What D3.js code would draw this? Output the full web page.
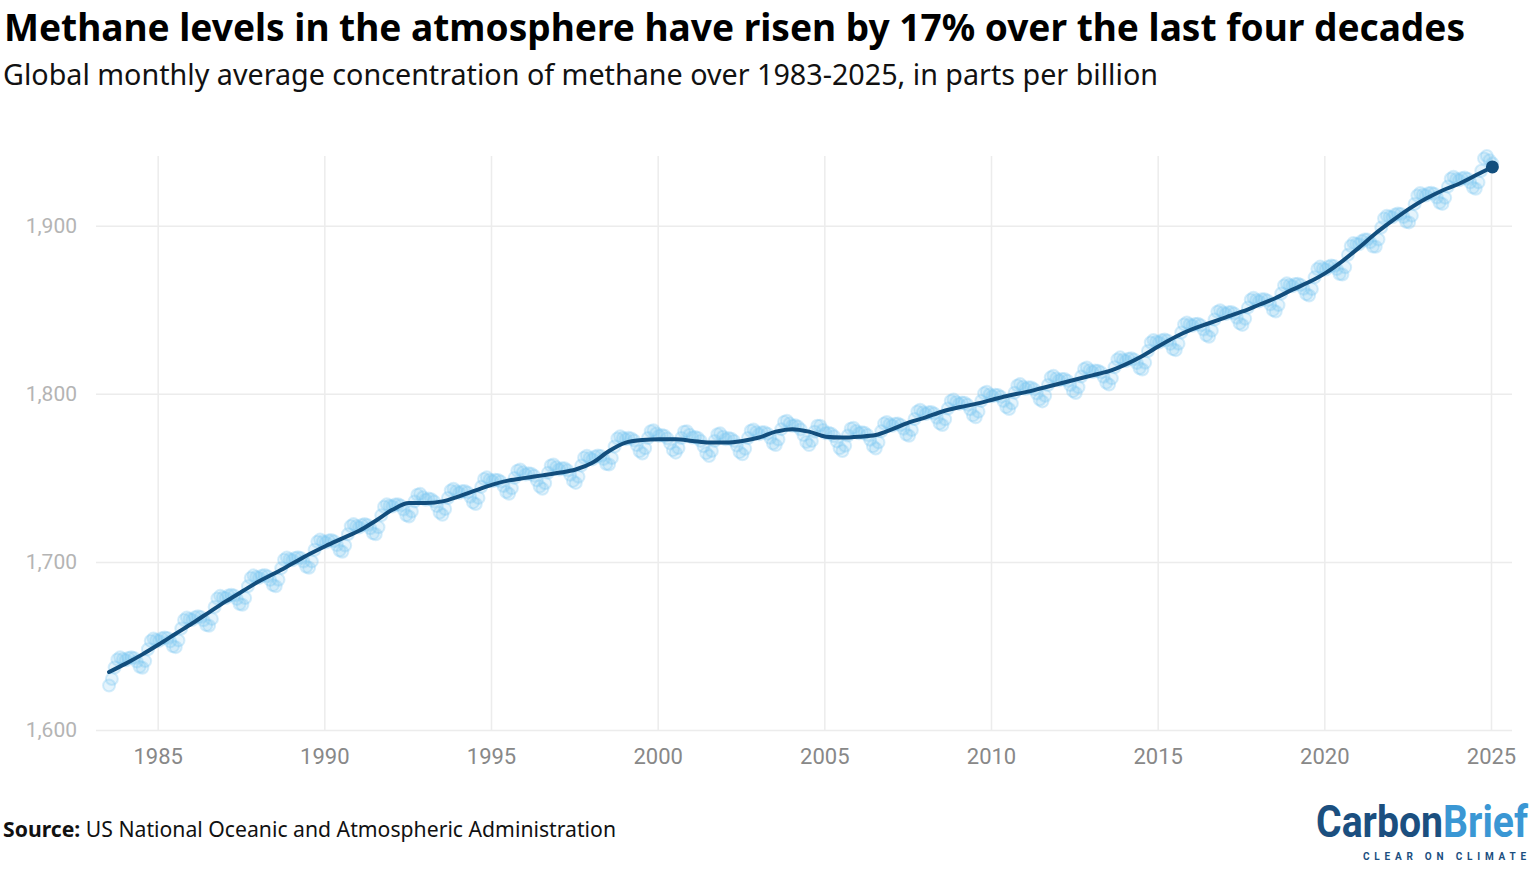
<!DOCTYPE html>
<html>
<head>
<meta charset="utf-8">
<script src="https://cdn.jsdelivr.net/npm/d3@7"></script>
<style>
	html, body { margin: 0; padding: 0; background: #ffffff; }
	svg { display: block; }
</style>
</head>
<body>
<svg id="chart" width="1536" height="870"></svg>
<script>
// NOAA global monthly mean CH4 (ppb), starting July 1983
const firstYear = 1983, firstMonth = 6;
const monthlyValues = [
	1626.5, 1630.3, 1637.2, 1642.0, 1643.3, 1642.2,
	1641.5, 1642.9, 1643.3, 1642.8, 1640.7, 1637.6, 1637.0, 1641.0, 1648.0, 1653.0, 1654.5, 1653.5,
	1653.0, 1654.6, 1655.1, 1654.7, 1652.7, 1649.8, 1649.3, 1653.3, 1660.4, 1665.4, 1666.9, 1666.0,
	1665.5, 1667.1, 1667.7, 1667.2, 1665.3, 1662.4, 1662.0, 1666.1, 1673.2, 1678.3, 1679.8, 1678.9,
	1678.5, 1680.0, 1680.5, 1680.0, 1678.0, 1675.0, 1674.5, 1678.5, 1685.5, 1690.5, 1692.0, 1691.0,
	1690.5, 1691.8, 1692.2, 1691.5, 1689.3, 1686.2, 1685.5, 1689.4, 1696.3, 1701.3, 1702.7, 1701.6,
	1701.0, 1702.4, 1702.8, 1702.3, 1700.2, 1697.1, 1696.5, 1700.3, 1707.2, 1712.0, 1713.3, 1712.2,
	1711.5, 1712.8, 1713.0, 1712.3, 1710.0, 1706.8, 1706.0, 1709.8, 1716.5, 1721.3, 1722.5, 1721.3,
	1720.5, 1722.0, 1722.5, 1722.0, 1720.0, 1717.0, 1716.5, 1720.6, 1727.7, 1732.8, 1734.3, 1733.4,
	1733.0, 1734.2, 1734.3, 1733.5, 1731.2, 1727.8, 1727.0, 1730.0, 1736.0, 1740.0, 1740.5, 1738.5,
	1737.0, 1737.7, 1737.3, 1736.0, 1733.2, 1729.3, 1728.0, 1731.5, 1738.0, 1742.5, 1743.5, 1742.0,
	1741.0, 1742.1, 1742.2, 1741.3, 1738.8, 1735.4, 1734.5, 1738.1, 1744.7, 1749.3, 1750.3, 1748.9,
	1748.0, 1748.9, 1748.8, 1747.8, 1745.2, 1741.6, 1740.5, 1743.8, 1750.0, 1754.3, 1755.0, 1753.3,
	1752.0, 1752.8, 1752.5, 1751.3, 1748.5, 1744.8, 1743.5, 1746.8, 1753.0, 1757.3, 1758.0, 1756.3,
	1755.0, 1755.8, 1755.7, 1754.5, 1751.8, 1748.2, 1747.0, 1750.7, 1757.3, 1762.0, 1763.2, 1761.8,
	1761.0, 1762.7, 1763.3, 1763.0, 1761.2, 1758.3, 1758.0, 1761.8, 1768.7, 1773.5, 1774.8, 1773.7,
	1773.0, 1773.8, 1773.5, 1772.3, 1769.5, 1765.8, 1764.5, 1767.6, 1773.7, 1777.8, 1778.3, 1776.4,
	1775.0, 1775.5, 1775.0, 1773.5, 1770.5, 1766.5, 1765.0, 1767.8, 1773.7, 1777.5, 1777.8, 1775.7,
	1774.0, 1774.3, 1773.7, 1772.0, 1768.8, 1764.7, 1763.0, 1766.0, 1772.0, 1776.0, 1776.5, 1774.5,
	1773.0, 1773.7, 1773.3, 1772.0, 1769.2, 1765.3, 1764.0, 1767.3, 1773.7, 1778.0, 1778.8, 1777.2,
	1776.0, 1777.1, 1777.2, 1776.3, 1773.8, 1770.4, 1769.5, 1772.8, 1779.0, 1783.3, 1784.0, 1782.3,
	1781.0, 1781.3, 1780.5, 1778.8, 1775.5, 1771.3, 1769.5, 1772.0, 1777.5, 1781.0, 1781.0, 1778.5,
	1776.5, 1776.9, 1776.3, 1774.8, 1771.7, 1767.6, 1766.0, 1769.1, 1775.2, 1779.3, 1779.8, 1777.9,
	1776.5, 1777.2, 1776.8, 1775.5, 1772.7, 1768.8, 1767.5, 1771.1, 1777.7, 1782.3, 1783.3, 1781.9,
	1781.0, 1782.2, 1782.3, 1781.5, 1779.2, 1775.8, 1775.0, 1778.5, 1785.0, 1789.5, 1790.5, 1789.0,
	1788.0, 1789.1, 1789.2, 1788.3, 1785.8, 1782.4, 1781.5, 1784.9, 1791.3, 1795.8, 1796.7, 1795.1,
	1794.0, 1794.8, 1794.7, 1793.5, 1790.8, 1787.2, 1786.0, 1789.4, 1795.8, 1800.3, 1801.2, 1799.6,
	1798.5, 1799.4, 1799.3, 1798.3, 1795.7, 1792.1, 1791.0, 1794.3, 1800.7, 1805.0, 1805.8, 1804.2,
	1803.0, 1803.9, 1803.8, 1802.8, 1800.2, 1796.6, 1795.5, 1798.9, 1805.3, 1809.8, 1810.7, 1809.1,
	1808.0, 1808.9, 1808.8, 1807.8, 1805.2, 1801.6, 1800.5, 1803.9, 1810.3, 1814.8, 1815.7, 1814.1,
	1813.0, 1813.9, 1813.8, 1812.8, 1810.2, 1806.6, 1805.5, 1809.2, 1815.8, 1820.5, 1821.7, 1820.3,
	1819.5, 1820.8, 1821.2, 1820.5, 1818.3, 1815.2, 1814.5, 1818.5, 1825.5, 1830.5, 1832.0, 1831.0,
	1830.5, 1831.9, 1832.3, 1831.8, 1829.7, 1826.6, 1826.0, 1829.8, 1836.5, 1841.3, 1842.5, 1841.3,
	1840.5, 1841.6, 1841.7, 1840.8, 1838.3, 1834.9, 1834.0, 1837.6, 1844.2, 1848.8, 1849.8, 1848.4,
	1847.5, 1848.6, 1848.7, 1847.8, 1845.3, 1841.9, 1841.0, 1844.7, 1851.3, 1856.0, 1857.2, 1855.8,
	1855.0, 1856.2, 1856.3, 1855.5, 1853.2, 1849.8, 1849.0, 1852.8, 1859.7, 1864.5, 1865.8, 1864.7,
	1864.0, 1865.3, 1865.5, 1864.8, 1862.5, 1859.3, 1858.5, 1862.4, 1869.3, 1874.3, 1875.7, 1874.6,
	1874.0, 1875.7, 1876.3, 1876.0, 1874.2, 1871.3, 1871.0, 1875.3, 1882.7, 1888.0, 1889.8, 1889.2,
	1889.0, 1890.9, 1891.8, 1891.8, 1890.2, 1887.6, 1887.5, 1891.8, 1899.0, 1904.3, 1906.0, 1905.3,
	1905.0, 1906.7, 1907.3, 1907.0, 1905.2, 1902.3, 1902.0, 1906.0, 1913.0, 1918.0, 1919.5, 1918.5,
	1918.0, 1919.3, 1919.7, 1919.0, 1916.8, 1913.7, 1913.0, 1916.7, 1923.3, 1928.0, 1929.2, 1927.8,
	1927.0, 1928.3, 1928.7, 1928.0, 1925.8, 1922.7, 1922.0, 1925.8, 1932.7, 1940.0, 1941.5, 1939.0,
	1937.0
];

// deseasonalised trend, every half year from July 1983
const trendValues = [
	1634.5,
	1639.5, 1645.0, 1651.0, 1657.3, 1663.5, 1670.0, 1676.5, 1682.5, 1688.5, 1693.5,
	1699.0, 1704.5, 1709.5, 1714.0, 1718.5, 1724.5, 1731.0, 1735.0, 1735.0, 1736.0,
	1739.0, 1742.5, 1746.0, 1748.5, 1750.0, 1751.5, 1753.0, 1755.0, 1759.0, 1766.0,
	1771.0, 1772.5, 1773.0, 1773.0, 1772.0, 1771.0, 1771.0, 1772.0, 1774.0, 1777.5,
	1779.0, 1777.5, 1774.5, 1774.0, 1774.5, 1775.5, 1779.0, 1783.0, 1786.0, 1789.5,
	1792.0, 1794.0, 1796.5, 1799.0, 1801.0, 1803.5, 1806.0, 1808.5, 1811.0, 1813.5,
	1817.5, 1822.5, 1828.5, 1834.0, 1838.5, 1842.0, 1845.5, 1849.0, 1853.0, 1857.0,
	1862.0, 1866.5, 1872.0, 1879.0, 1887.0, 1895.5, 1903.0, 1910.0, 1916.0, 1921.0,
	1925.0, 1930.0, 1935.0
];

const xTickValues = [1985, 1990, 1995, 2000, 2005, 2010, 2015, 2020, 2025];
const yTickValues = [1600, 1700, 1800, 1900];

const titleText = 'Methane levels in the atmosphere have risen by 17% over the last four decades';
const subtitleText = 'Global monthly average concentration of methane over 1983-2025, in parts per billion';
const sourceText = 'US National Oceanic and Atmospheric Administration';

const svg = d3.select('#chart');
const plotLeft = 96, plotRight = 1512, plotTop = 156, plotBottom = 730;

function monthToYear(i) {
	let monthIndex = firstMonth + i;
	return firstYear + (monthIndex + 0.5) / 12;
}

let monthlyData = monthlyValues.map(function(v, i) { return { year: monthToYear(i), value: v }; });
let trendData = trendValues.map(function(v, i) { return { year: monthToYear(i * 6), value: v }; });

let xScale = d3.scaleLinear()
	.domain([1983.15, 2025.63])
	.range([plotLeft, plotRight]);
let yScale = d3.scaleLinear()
	.domain([1600, d3.max(monthlyValues)])
	.range([plotBottom, plotTop]);

// grid + axes
let yAxis = svg.append('g')
	.attr('transform', 'translate(' + plotLeft + ',0)')
	.call(d3.axisLeft(yScale)
		.tickValues(yTickValues)
		.tickFormat(d3.format(','))
		.tickSize(-(plotRight - plotLeft))
		.tickPadding(19));
yAxis.select('.domain').remove();
yAxis.selectAll('line').attr('stroke', '#ececec').attr('stroke-width', 1.5);
yAxis.selectAll('text')
	.attr('fill', '#b4b4b4')
	.style('font-family', 'Roboto, sans-serif')
	.style('font-size', '21px');

let xAxis = svg.append('g')
	.attr('transform', 'translate(0,' + plotBottom + ')')
	.call(d3.axisBottom(xScale)
		.tickValues(xTickValues)
		.tickFormat(d3.format('d'))
		.tickSize(-(plotBottom - plotTop))
		.tickPadding(18));
xAxis.select('.domain').remove();
xAxis.selectAll('line').attr('stroke', '#ececec').attr('stroke-width', 1.5);
xAxis.selectAll('text')
	.attr('fill', '#888888')
	.style('font-family', 'Roboto, sans-serif')
	.style('font-size', '22px');

// monthly points
svg.append('g')
	.selectAll('circle')
	.data(monthlyData)
	.join('circle')
	.attr('cx', function(d) { return xScale(d.year); })
	.attr('cy', function(d) { return yScale(d.value); })
	.attr('r', 6)
	.attr('fill', '#7cc6f2')
	.attr('fill-opacity', 0.2)
	.attr('stroke', '#7cc6f2')
	.attr('stroke-opacity', 0.3)
	.attr('stroke-width', 2);

// trend
let trendLine = d3.line()
	.x(function(d) { return xScale(d.year); })
	.y(function(d) { return yScale(d.value); })
	.curve(d3.curveMonotoneX);

svg.append('path')
	.datum(trendData)
	.attr('d', trendLine)
	.attr('fill', 'none')
	.attr('stroke', '#124e7d')
	.attr('stroke-width', 4)
	.attr('stroke-linecap', 'round');

let lastPoint = trendData[trendData.length - 1];
svg.append('circle')
	.attr('cx', xScale(lastPoint.year))
	.attr('cy', yScale(lastPoint.value))
	.attr('r', 6.5)
	.attr('fill', '#124e7d');

// titles
svg.append('text')
	.attr('x', 4)
	.attr('y', 41)
	.attr('textLength', 1461)
	.attr('lengthAdjust', 'spacingAndGlyphs')
	.style('font-family', '"Noto Sans", sans-serif')
	.style('font-weight', 700)
	.style('font-size', '38px')
	.attr('fill', '#000')
	.text(titleText);

svg.append('text')
	.attr('x', 3)
	.attr('y', 85)
	.attr('textLength', 1155)
	.attr('lengthAdjust', 'spacingAndGlyphs')
	.style('font-family', '"Noto Sans", sans-serif')
	.style('font-size', '29px')
	.attr('fill', '#111')
	.text(subtitleText);

let source = svg.append('text')
	.attr('x', 3)
	.attr('y', 837)
	.attr('textLength', 613)
	.attr('lengthAdjust', 'spacingAndGlyphs')
	.style('font-family', '"Noto Sans", sans-serif')
	.style('font-size', '22px')
	.attr('fill', '#111');
source.append('tspan').style('font-weight', 700).text('Source: ');
source.append('tspan').text(sourceText);

// logo: fit the word to its box, then stretch it upward to the cap height
let logoWidth = 212, logoFontSize = 44;
let logoGroup = svg.append('g');
let logo = logoGroup.append('text')
	.style('font-family', 'Roboto, sans-serif')
	.style('font-weight', 700)
	.style('font-size', logoFontSize + 'px');
logo.append('tspan').attr('fill', '#1b4f7f').text('Carbon');
logo.append('tspan').attr('fill', '#3a97d4').text('Brief');
let naturalWidth = logo.node().getComputedTextLength();
let fittedSize = logoFontSize * logoWidth / naturalWidth;
logo.style('font-size', fittedSize + 'px');
logoGroup.attr('transform', 'translate(1316,837) scale(1,' + (logoFontSize / fittedSize) + ')');

svg.append('text')
	.attr('x', 1363)
	.attr('y', 860)
	.attr('textLength', 163)
	.attr('lengthAdjust', 'spacing')
	.style('font-family', 'Roboto, sans-serif')
	.style('font-weight', 700)
	.style('font-size', '10px')
	.attr('fill', '#1b4f7f')
	.text('CLEAR ON CLIMATE');
</script>
</body>
</html>
